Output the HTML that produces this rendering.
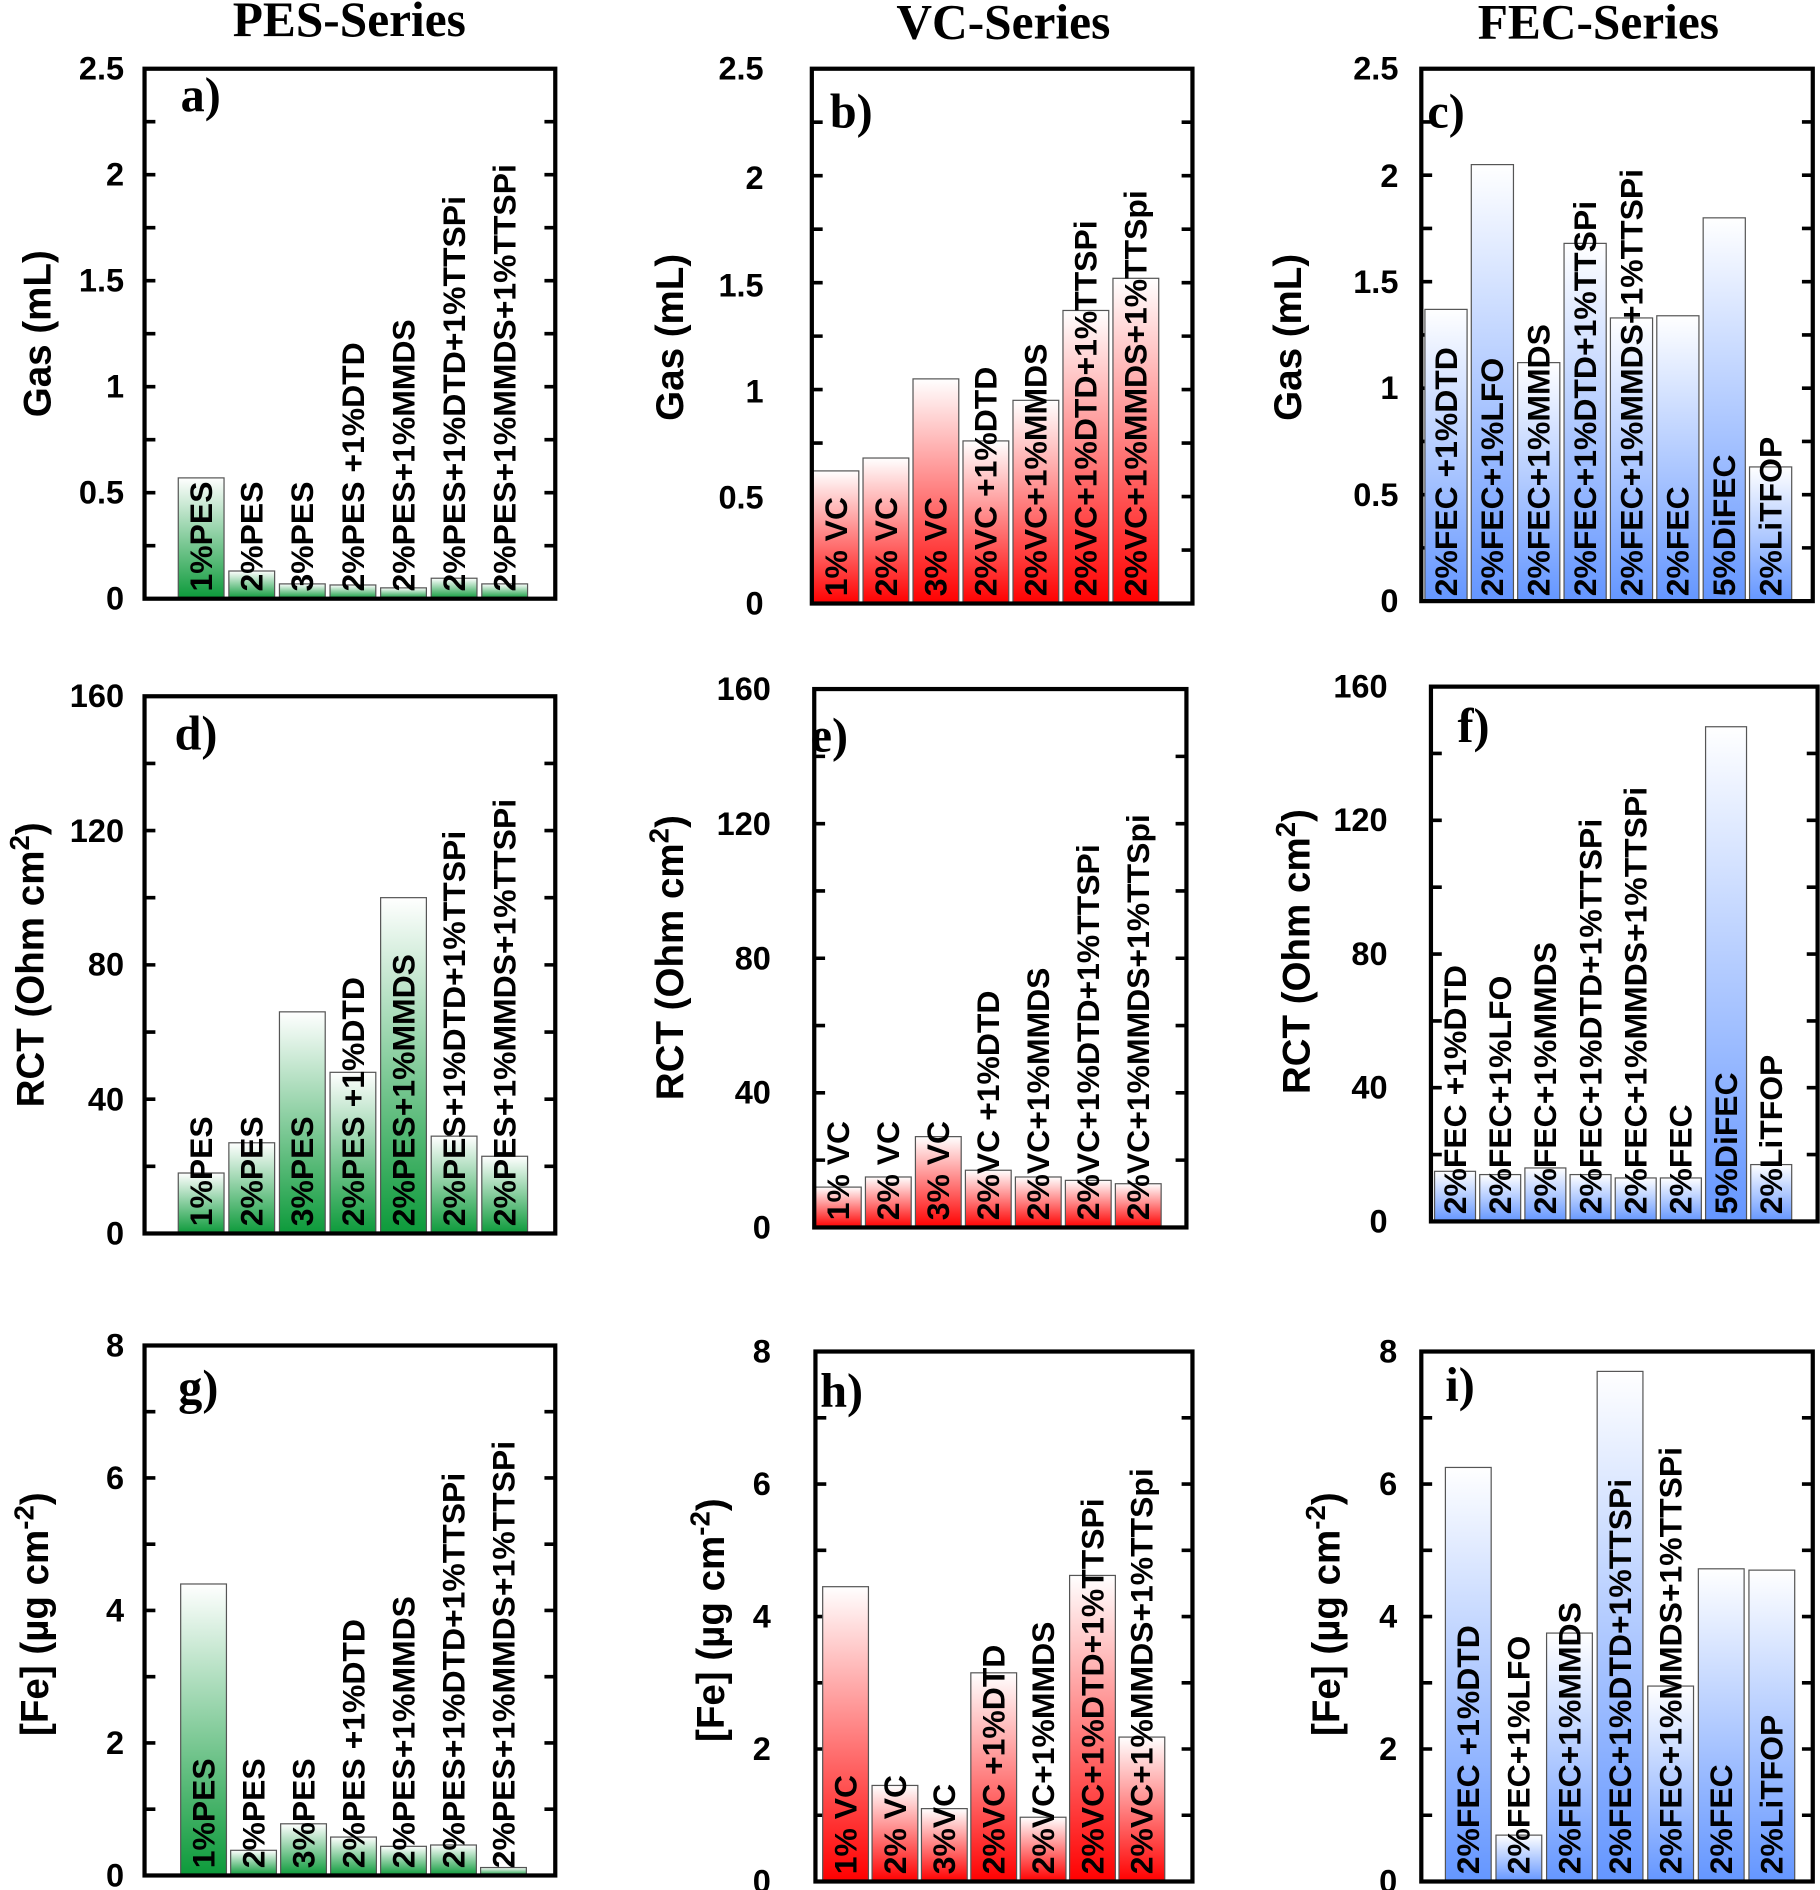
<!DOCTYPE html>
<html><head><meta charset="utf-8"><style>
html,body{margin:0;padding:0;background:#fff;}
svg{display:block;}
.t{font-family:"Liberation Serif",serif;font-weight:bold;font-size:41px;text-anchor:middle;}
.pl{font-family:"Liberation Serif",serif;font-weight:bold;font-size:40px;}
.tk{font-family:"Liberation Sans",sans-serif;font-weight:bold;font-size:27px;text-anchor:end;}
.yl{font-family:"Liberation Sans",sans-serif;font-weight:bold;font-size:32px;text-anchor:middle;}
.bl{font-family:"Liberation Sans",sans-serif;font-weight:bold;font-size:26.5px;}
.fr{fill:none;stroke:#000;stroke-width:3.5;}
.tks{stroke:#000;stroke-width:3;}
.g{fill:url(#gg);stroke:#555;stroke-width:1;}
.r{fill:url(#gr);stroke:#555;stroke-width:1;}
.b{fill:url(#gb);stroke:#555;stroke-width:1;}
</style></head><body>
<svg width="1820" height="1890" viewBox="0 0 1511 1569" xmlns="http://www.w3.org/2000/svg">
<defs>
<linearGradient id="gg" x1="0" y1="0" x2="0" y2="1"><stop offset="0" stop-color="#ffffff"/><stop offset="1" stop-color="#0c9a3a"/></linearGradient>
<linearGradient id="gr" x1="0" y1="0" x2="0" y2="1"><stop offset="0" stop-color="#ffffff"/><stop offset="1" stop-color="#ff0000"/></linearGradient>
<linearGradient id="gb" x1="0" y1="0" x2="0" y2="1"><stop offset="0" stop-color="#ffffff"/><stop offset="1" stop-color="#6496ff"/></linearGradient>
</defs>

<text class="t" x="290" y="30">PES-Series</text>
<text class="t" x="833" y="32">VC-Series</text>
<text class="t" x="1327" y="32">FEC-Series</text>

<!-- ===== Panel a ===== -->
<g class="tks">
<path d="M120 101h9M120 145h9M120 189h9M120 233h9M120 277h9M120 321h9M120 365h9M120 409h9M120 453h9M461 101h-9M461 145h-9M461 189h-9M461 233h-9M461 277h-9M461 321h-9M461 365h-9M461 409h-9M461 453h-9"/>
</g>
<text class="tk" x="103" y="66">2.5</text><text class="tk" x="103" y="154">2</text><text class="tk" x="103" y="242">1.5</text><text class="tk" x="103" y="330">1</text><text class="tk" x="103" y="418">0.5</text><text class="tk" x="103" y="506">0</text>
<text class="yl" transform="translate(42,277) rotate(-90)">Gas (mL)</text>
<rect class="g" x="148" y="396.7" width="38" height="100.3"/>
<rect class="g" x="190" y="474" width="38" height="23"/>
<rect class="g" x="232" y="484.7" width="38" height="12.3"/>
<rect class="g" x="274" y="485.6" width="38" height="11.4"/>
<rect class="g" x="316" y="488" width="38" height="9"/>
<rect class="g" x="358" y="480" width="38" height="17"/>
<rect class="g" x="400" y="484.7" width="38" height="12.3"/>
<text class="bl" transform="translate(176,491) rotate(-90)">1%PES</text>
<text class="bl" transform="translate(218,491) rotate(-90)">2%PES</text>
<text class="bl" transform="translate(260,491) rotate(-90)">3%PES</text>
<text class="bl" transform="translate(302,491) rotate(-90)">2%PES +1%DTD</text>
<text class="bl" transform="translate(344,491) rotate(-90)">2%PES+1%MMDS</text>
<text class="bl" transform="translate(386,491) rotate(-90)">2%PES+1%DTD+1%TTSPi</text>
<text class="bl" transform="translate(428,491) rotate(-90)">2%PES+1%MMDS+1%TTSPi</text>
<text class="pl" x="150" y="92">a)</text>
<rect class="fr" x="120" y="57" width="341" height="440"/>

<!-- ===== Panel b ===== -->
<g class="tks">
<path d="M674 101.4h9M674 145.8h9M674 190.2h9M674 234.6h9M674 279h9M674 323.4h9M674 367.8h9M674 412.2h9M674 456.6h9M990 101.4h-9M990 145.8h-9M990 190.2h-9M990 234.6h-9M990 279h-9M990 323.4h-9M990 367.8h-9M990 412.2h-9M990 456.6h-9"/>
</g>
<text class="tk" x="634" y="66">2.5</text><text class="tk" x="634" y="157">2</text><text class="tk" x="634" y="246">1.5</text><text class="tk" x="634" y="334">1</text><text class="tk" x="634" y="422">0.5</text><text class="tk" x="634" y="510">0</text>
<text class="yl" transform="translate(567,280) rotate(-90)">Gas (mL)</text>
<rect class="r" x="675" y="390.9" width="38" height="110.1"/>
<rect class="r" x="716.5" y="380.2" width="38" height="120.8"/>
<rect class="r" x="758" y="314.5" width="38" height="186.5"/>
<rect class="r" x="799.5" y="366" width="38" height="135"/>
<rect class="r" x="841" y="332.3" width="38" height="168.7"/>
<rect class="r" x="882.5" y="257.7" width="38" height="243.3"/>
<rect class="r" x="924" y="231" width="38" height="270"/>
<text class="bl" transform="translate(703,495) rotate(-90)">1% VC</text>
<text class="bl" transform="translate(744.5,495) rotate(-90)">2% VC</text>
<text class="bl" transform="translate(786,495) rotate(-90)">3% VC</text>
<text class="bl" transform="translate(827.5,495) rotate(-90)">2%VC +1%DTD</text>
<text class="bl" transform="translate(869,495) rotate(-90)">2%VC+1%MMDS</text>
<text class="bl" transform="translate(910.5,495) rotate(-90)">2%VC+1%DTD+1%TTSPi</text>
<text class="bl" transform="translate(952,495) rotate(-90)">2%VC+1%MMDS+1%TTSpi</text>
<text class="pl" x="689" y="106">b)</text>
<rect class="fr" x="674" y="57" width="316" height="444"/>

<!-- ===== Panel c ===== -->
<g class="tks">
<path d="M1180 101.2h9M1180 145.4h9M1180 189.6h9M1180 233.8h9M1180 278h9M1180 322.2h9M1180 366.4h9M1180 410.6h9M1180 454.8h9M1505 101.2h-9M1505 145.4h-9M1505 189.6h-9M1505 233.8h-9M1505 278h-9M1505 322.2h-9M1505 366.4h-9M1505 410.6h-9M1505 454.8h-9"/>
</g>
<text class="tk" x="1161" y="66">2.5</text><text class="tk" x="1161" y="155">2</text><text class="tk" x="1161" y="243">1.5</text><text class="tk" x="1161" y="331">1</text><text class="tk" x="1161" y="420">0.5</text><text class="tk" x="1161" y="508">0</text>
<text class="yl" transform="translate(1080,280) rotate(-90)">Gas (mL)</text>
<rect class="b" x="1183" y="256.8" width="35" height="242.2"/>
<rect class="b" x="1221.5" y="136.6" width="35" height="362.4"/>
<rect class="b" x="1260" y="301" width="35" height="198"/>
<rect class="b" x="1298.5" y="202" width="35" height="297"/>
<rect class="b" x="1337" y="263.9" width="35" height="235.1"/>
<rect class="b" x="1375.5" y="262.1" width="35" height="236.9"/>
<rect class="b" x="1414" y="180.8" width="35" height="318.2"/>
<rect class="b" x="1452.5" y="387.6" width="35" height="111.4"/>
<text class="bl" transform="translate(1209.5,495) rotate(-90)">2%FEC +1%DTD</text>
<text class="bl" transform="translate(1248,495) rotate(-90)">2%FEC+1%LFO</text>
<text class="bl" transform="translate(1286.5,495) rotate(-90)">2%FEC+1%MMDS</text>
<text class="bl" transform="translate(1325,495) rotate(-90)">2%FEC+1%DTD+1%TTSPi</text>
<text class="bl" transform="translate(1363.5,495) rotate(-90)">2%FEC+1%MMDS+1%TTSPi</text>
<text class="bl" transform="translate(1402,495) rotate(-90)">2%FEC</text>
<text class="bl" transform="translate(1440.5,495) rotate(-90)">5%DiFEC</text>
<text class="bl" transform="translate(1479,495) rotate(-90)">2%LiTFOP</text>
<text class="pl" x="1185" y="106">c)</text>
<rect class="fr" x="1180" y="57" width="325" height="442"/>

<!-- ===== Panel d ===== -->
<g class="tks">
<path d="M120 633.75h9M120 689.5h9M120 745.25h9M120 801h9M120 856.75h9M120 912.5h9M120 968.25h9M461 633.75h-9M461 689.5h-9M461 745.25h-9M461 801h-9M461 856.75h-9M461 912.5h-9M461 968.25h-9"/>
</g>
<text class="tk" x="103" y="587">160</text><text class="tk" x="103" y="699">120</text><text class="tk" x="103" y="810">80</text><text class="tk" x="103" y="922">40</text><text class="tk" x="103" y="1033">0</text>
<text class="yl" transform="translate(36,801) rotate(-90)">RCT (Ohm cm<tspan dy="-12" font-size="23">2</tspan><tspan dy="12">)</tspan></text>
<rect class="g" x="148" y="973.8" width="38" height="50.2"/>
<rect class="g" x="190" y="948.7" width="38" height="75.3"/>
<rect class="g" x="232" y="840" width="38" height="184"/>
<rect class="g" x="274" y="890.2" width="38" height="133.8"/>
<rect class="g" x="316" y="745.2" width="38" height="278.8"/>
<rect class="g" x="358" y="943.2" width="38" height="80.8"/>
<rect class="g" x="400" y="959.9" width="38" height="64.1"/>
<text class="bl" transform="translate(176,1018) rotate(-90)">1%PES</text>
<text class="bl" transform="translate(218,1018) rotate(-90)">2%PES</text>
<text class="bl" transform="translate(260,1018) rotate(-90)">3%PES</text>
<text class="bl" transform="translate(302,1018) rotate(-90)">2%PES +1%DTD</text>
<text class="bl" transform="translate(344,1018) rotate(-90)">2%PES+1%MMDS</text>
<text class="bl" transform="translate(386,1018) rotate(-90)">2%PES+1%DTD+1%TTSPi</text>
<text class="bl" transform="translate(428,1018) rotate(-90)">2%PES+1%MMDS+1%TTSPi</text>
<text class="pl" x="145" y="622">d)</text>
<rect class="fr" x="120" y="578" width="341" height="446"/>

<!-- ===== Panel e ===== -->
<g class="tks">
<path d="M676 627.9h9M676 683.75h9M676 739.6h9M676 795.5h9M676 851.4h9M676 907.25h9M676 963.1h9M985 627.9h-9M985 683.75h-9M985 739.6h-9M985 795.5h-9M985 851.4h-9M985 907.25h-9M985 963.1h-9"/>
</g>
<text class="tk" x="640" y="581">160</text><text class="tk" x="640" y="693">120</text><text class="tk" x="640" y="805">80</text><text class="tk" x="640" y="916">40</text><text class="tk" x="640" y="1028">0</text>
<text class="yl" transform="translate(567,795) rotate(-90)">RCT (Ohm cm<tspan dy="-12" font-size="23">2</tspan><tspan dy="12">)</tspan></text>
<rect class="r" x="677" y="985.5" width="38" height="33.5"/>
<rect class="r" x="718.5" y="977.1" width="38" height="41.9"/>
<rect class="r" x="760" y="943.6" width="38" height="75.4"/>
<rect class="r" x="801.5" y="971.5" width="38" height="47.5"/>
<rect class="r" x="843" y="977.1" width="38" height="41.9"/>
<rect class="r" x="884.5" y="979.9" width="38" height="39.1"/>
<rect class="r" x="926" y="982.7" width="38" height="36.3"/>
<text class="bl" transform="translate(705,1013) rotate(-90)">1% VC</text>
<text class="bl" transform="translate(746.5,1013) rotate(-90)">2% VC</text>
<text class="bl" transform="translate(788,1013) rotate(-90)">3% VC</text>
<text class="bl" transform="translate(829.5,1013) rotate(-90)">2%VC +1%DTD</text>
<text class="bl" transform="translate(871,1013) rotate(-90)">2%VC+1%MMDS</text>
<text class="bl" transform="translate(912.5,1013) rotate(-90)">2%VC+1%DTD+1%TTSPi</text>
<text class="bl" transform="translate(954,1013) rotate(-90)">2%VC+1%MMDS+1%TTSpi</text>
<text class="pl" x="673" y="624">e)</text>
<rect class="fr" x="676" y="572" width="309" height="447"/>

<!-- ===== Panel f ===== -->
<g class="tks">
<path d="M1188 625.5h9M1188 681h9M1188 736.5h9M1188 792h9M1188 847.5h9M1188 903h9M1188 958.5h9M1509 625.5h-9M1509 681h-9M1509 736.5h-9M1509 792h-9M1509 847.5h-9M1509 903h-9M1509 958.5h-9"/>
</g>
<text class="tk" x="1152" y="579">160</text><text class="tk" x="1152" y="690">120</text><text class="tk" x="1152" y="801">80</text><text class="tk" x="1152" y="912">40</text><text class="tk" x="1152" y="1023">0</text>
<text class="yl" transform="translate(1087,790) rotate(-90)">RCT (Ohm cm<tspan dy="-12" font-size="23">2</tspan><tspan dy="12">)</tspan></text>
<rect class="b" x="1191" y="972.4" width="34" height="41.6"/>
<rect class="b" x="1228.5" y="975.1" width="34" height="38.9"/>
<rect class="b" x="1266" y="969.6" width="34" height="44.4"/>
<rect class="b" x="1303.5" y="975.1" width="34" height="38.9"/>
<rect class="b" x="1341" y="977.9" width="34" height="36.1"/>
<rect class="b" x="1378.5" y="977.9" width="34" height="36.1"/>
<rect class="b" x="1416" y="603.3" width="34" height="410.7"/>
<rect class="b" x="1453.5" y="966.8" width="34" height="47.2"/>
<text class="bl" transform="translate(1217,1008) rotate(-90)">2%FEC +1%DTD</text>
<text class="bl" transform="translate(1254.5,1008) rotate(-90)">2%FEC+1%LFO</text>
<text class="bl" transform="translate(1292,1008) rotate(-90)">2%FEC+1%MMDS</text>
<text class="bl" transform="translate(1329.5,1008) rotate(-90)">2%FEC+1%DTD+1%TTSPi</text>
<text class="bl" transform="translate(1367,1008) rotate(-90)">2%FEC+1%MMDS+1%TTSPi</text>
<text class="bl" transform="translate(1404.5,1008) rotate(-90)">2%FEC</text>
<text class="bl" transform="translate(1442,1008) rotate(-90)">5%DiFEC</text>
<text class="bl" transform="translate(1479.5,1008) rotate(-90)">2%LiTFOP</text>
<text class="pl" x="1210" y="616">f)</text>
<rect class="fr" x="1188" y="570" width="321" height="444"/>

<!-- ===== Panel g ===== -->
<g class="tks">
<path d="M120 1172h9M120 1227h9M120 1282h9M120 1337h9M120 1392h9M120 1447h9M120 1502h9M461 1172h-9M461 1227h-9M461 1282h-9M461 1337h-9M461 1392h-9M461 1447h-9M461 1502h-9"/>
</g>
<text class="tk" x="103" y="1126">8</text><text class="tk" x="103" y="1236">6</text><text class="tk" x="103" y="1346">4</text><text class="tk" x="103" y="1456">2</text><text class="tk" x="103" y="1566">0</text>
<text class="yl" transform="translate(40,1340) rotate(-90)">[Fe] (µg cm<tspan dy="-12" font-size="23">-2</tspan><tspan dy="12">)</tspan></text>
<rect class="g" x="150" y="1315" width="38" height="242"/>
<rect class="g" x="191.5" y="1536.1" width="38" height="20.9"/>
<rect class="g" x="233" y="1514.1" width="38" height="42.9"/>
<rect class="g" x="274.5" y="1525.1" width="38" height="31.9"/>
<rect class="g" x="316" y="1532.8" width="38" height="24.2"/>
<rect class="g" x="357.5" y="1531.7" width="38" height="25.3"/>
<rect class="g" x="399" y="1550.4" width="38" height="6.6"/>
<text class="bl" transform="translate(178,1551) rotate(-90)">1%PES</text>
<text class="bl" transform="translate(219.5,1551) rotate(-90)">2%PES</text>
<text class="bl" transform="translate(261,1551) rotate(-90)">3%PES</text>
<text class="bl" transform="translate(302.5,1551) rotate(-90)">2%PES +1%DTD</text>
<text class="bl" transform="translate(344,1551) rotate(-90)">2%PES+1%MMDS</text>
<text class="bl" transform="translate(385.5,1551) rotate(-90)">2%PES+1%DTD+1%TTSPi</text>
<text class="bl" transform="translate(427,1551) rotate(-90)">2%PES+1%MMDS+1%TTSPi</text>
<text class="pl" x="148" y="1165">g)</text>
<rect class="fr" x="120" y="1117" width="341" height="440"/>

<!-- ===== Panel h ===== -->
<g class="tks">
<path d="M677 1177h9M677 1232h9M677 1287h9M677 1342h9M677 1397h9M677 1452h9M677 1507h9M990 1177h-9M990 1232h-9M990 1287h-9M990 1342h-9M990 1397h-9M990 1452h-9M990 1507h-9"/>
</g>
<text class="tk" x="640" y="1131">8</text><text class="tk" x="640" y="1241">6</text><text class="tk" x="640" y="1351">4</text><text class="tk" x="640" y="1461">2</text><text class="tk" x="640" y="1571">0</text>
<text class="yl" transform="translate(601,1345) rotate(-90)">[Fe] (µg cm<tspan dy="-12" font-size="23">-2</tspan><tspan dy="12">)</tspan></text>
<rect class="r" x="683" y="1317.25" width="38" height="244.75"/>
<rect class="r" x="724" y="1482.25" width="38" height="79.75"/>
<rect class="r" x="765" y="1501.5" width="38" height="60.5"/>
<rect class="r" x="806" y="1388.75" width="38" height="173.25"/>
<rect class="r" x="847" y="1508.65" width="38" height="53.35"/>
<rect class="r" x="888" y="1307.9" width="38" height="254.1"/>
<rect class="r" x="929" y="1442.1" width="38" height="119.9"/>
<text class="bl" transform="translate(711,1556) rotate(-90)">1% VC</text>
<text class="bl" transform="translate(752,1556) rotate(-90)">2% VC</text>
<text class="bl" transform="translate(793,1556) rotate(-90)">3%VC</text>
<text class="bl" transform="translate(834,1556) rotate(-90)">2%VC +1%DTD</text>
<text class="bl" transform="translate(875,1556) rotate(-90)">2%VC+1%MMDS</text>
<text class="bl" transform="translate(916,1556) rotate(-90)">2%VC+1%DTD+1%TTSPi</text>
<text class="bl" transform="translate(957,1556) rotate(-90)">2%VC+1%MMDS+1%TTSpi</text>
<text class="pl" x="681" y="1168">h)</text>
<rect class="fr" x="677" y="1122" width="313" height="440"/>

<!-- ===== Panel i ===== -->
<g class="tks">
<path d="M1180 1177h9M1180 1232h9M1180 1287h9M1180 1342h9M1180 1397h9M1180 1452h9M1180 1507h9M1505 1177h-9M1505 1232h-9M1505 1287h-9M1505 1342h-9M1505 1397h-9M1505 1452h-9M1505 1507h-9"/>
</g>
<text class="tk" x="1160" y="1131">8</text><text class="tk" x="1160" y="1241">6</text><text class="tk" x="1160" y="1351">4</text><text class="tk" x="1160" y="1461">2</text><text class="tk" x="1160" y="1571">0</text>
<text class="yl" transform="translate(1112,1340) rotate(-90)">[Fe] (µg cm<tspan dy="-12" font-size="23">-2</tspan><tspan dy="12">)</tspan></text>
<rect class="b" x="1200" y="1218.25" width="38" height="343.75"/>
<rect class="b" x="1242" y="1523.5" width="38" height="38.5"/>
<rect class="b" x="1284" y="1355.75" width="38" height="206.25"/>
<rect class="b" x="1326" y="1138.5" width="38" height="423.5"/>
<rect class="b" x="1368" y="1399.75" width="38" height="162.25"/>
<rect class="b" x="1410" y="1302.4" width="38" height="259.6"/>
<rect class="b" x="1452" y="1303.5" width="38" height="258.5"/>
<text class="bl" transform="translate(1228,1556) rotate(-90)">2%FEC +1%DTD</text>
<text class="bl" transform="translate(1270,1556) rotate(-90)">2%FEC+1%LFO</text>
<text class="bl" transform="translate(1312,1556) rotate(-90)">2%FEC+1%MMDS</text>
<text class="bl" transform="translate(1354,1556) rotate(-90)">2%FEC+1%DTD+1%TTSPi</text>
<text class="bl" transform="translate(1396,1556) rotate(-90)">2%FEC+1%MMDS+1%TTSPi</text>
<text class="bl" transform="translate(1438,1556) rotate(-90)">2%FEC</text>
<text class="bl" transform="translate(1480,1556) rotate(-90)">2%LiTFOP</text>
<text class="pl" x="1200" y="1163">i)</text>
<rect class="fr" x="1180" y="1122" width="325" height="440"/>
</svg>
</body></html>
